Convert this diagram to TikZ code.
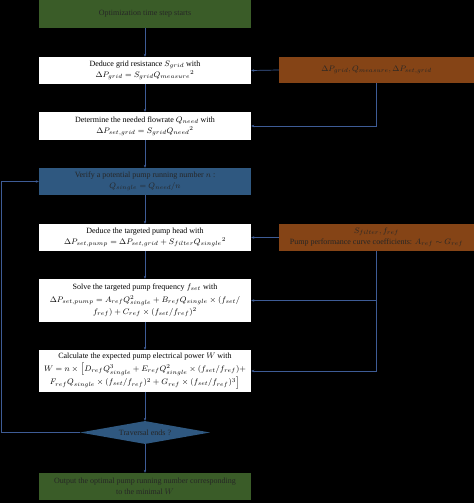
\documentclass[tikz,border=0pt]{standalone}
\usepackage{fontspec}
\setmainfont{Liberation Serif}
\usetikzlibrary{shapes.geometric,arrows.meta}
\definecolor{gbox}{RGB}{58,92,40}
\definecolor{bbox}{RGB}{47,88,128}
\definecolor{obox}{RGB}{133,68,22}
\definecolor{lnc}{RGB}{62,92,150}
\tikzset{
  base/.style={draw=none, minimum width=212pt, align=center, inner sep=1pt,
    font=\fontsize{8}{11}\selectfont, text=black},
  whitebox/.style={base, fill=white},
  tallbox/.style={whitebox, font=\fontsize{8}{12.5}\selectfont},
  greenbox/.style={base, fill=gbox, text=black!85},
  bluebox/.style={base, fill=bbox, text=black!85},
  orangebox/.style={base, fill=obox, minimum width=195pt, text=black!85},
  decide/.style={diamond, fill=bbox, minimum width=130pt, minimum height=23pt, aspect=5.6,
    inner sep=0pt, font=\fontsize{8}{10}\selectfont, text=black!85},
  conn/.style={draw=lnc, line width=0.7pt, -{Stealth[length=3pt,width=2.5pt]}}
}
\begin{document}
\begin{tikzpicture}[x=1pt,y=-1pt]
\fill[black] (0,0) rectangle (474,503);
\useasboundingbox (0,0) rectangle (474,503);

\node[greenbox, minimum height=28pt] (start) at (145,14) {Optimization time step starts};
\node[whitebox, minimum height=27pt] (grid) at (145,70.5)
  {Deduce grid resistance $S_{grid}$ with\\ $\Delta P_{grid} = S_{grid}Q_{measure}{}^{2}$};
\node[whitebox, minimum height=28pt] (need) at (145,126)
  {Determine the needed flowrate $Q_{need}$ with\\ $\Delta P_{set,grid} = S_{grid}Q_{need}{}^{2}$};
\node[bluebox, minimum height=27pt] (verify) at (145,181.5)
  {Verify a potential pump running number $n$ :\\ $Q_{single} = Q_{need}/n$};
\node[whitebox, minimum height=27pt] (head) at (145,237.5)
  {Deduce the targeted pump head with\\ $\Delta P_{set,pump} = \Delta P_{set,grid} + S_{filter}Q_{single}{}^{2}$};
\node[tallbox, minimum height=43pt] (solve) at (145,300.5)
  {Solve the targeted pump frequency $f_{set}$ with\\
   $\Delta P_{set,pump} = A_{ref}Q_{single}^{2} + B_{ref}Q_{single}\times(f_{set}/$\\
   $f_{ref}) + C_{ref}\times(f_{set}/f_{ref})^{2}$};
\node[tallbox, minimum height=42pt] (calc) at (145,371)
  {Calculate the expected pump electrical power $W$ with\\
   $W = n\times\bigl[D_{ref}Q_{single}^{3} + E_{ref}Q_{single}^{2}\times(f_{set}/f_{ref}) +$\\
   $F_{ref}Q_{single}\times(f_{set}/f_{ref})^{2} + G_{ref}\times(f_{set}/f_{ref})^{3}\bigr]$};
\node[decide] (ends) at (145,432.5) {Traversal ends ?};
\node[greenbox, minimum height=27pt] (out) at (145,486.5)
  {Output the optimal pump running number corresponding\\ to the minimal $W$};

\node[orangebox, minimum height=26pt] (in1) at (376.5,70)
  {$\Delta P_{grid}, Q_{measure}, \Delta P_{set,grid}$};
\node[orangebox, minimum height=27pt] (in2) at (376.5,237.5)
  {$S_{filter}, f_{ref}$\\ Pump performance curve coefficients: $A_{ref}\sim G_{ref}$};

\coordinate (loop) at (1.5,432.5);

\draw[conn] (start) -- (grid);
\draw[conn] (grid) -- (need);
\draw[conn] (need) -- (verify);
\draw[conn] (verify) -- (head);
\draw[conn] (head) -- (solve);
\draw[conn] (solve) -- (calc);
\draw[conn] (calc) -- (ends);
\draw[conn] (ends) -- (out);
\draw[conn] (in1.west) -- (grid.east);
\draw[conn] (in1.south) |- (need.east);
\draw[conn] (in2.west) -- (head.east);
\draw[conn] (in2.south) |- (solve.east);
\draw[conn] (in2.south) |- (calc.east);
\draw[conn] (ends.west) -- (loop) |- (verify.west);
\end{tikzpicture}
\end{document}
